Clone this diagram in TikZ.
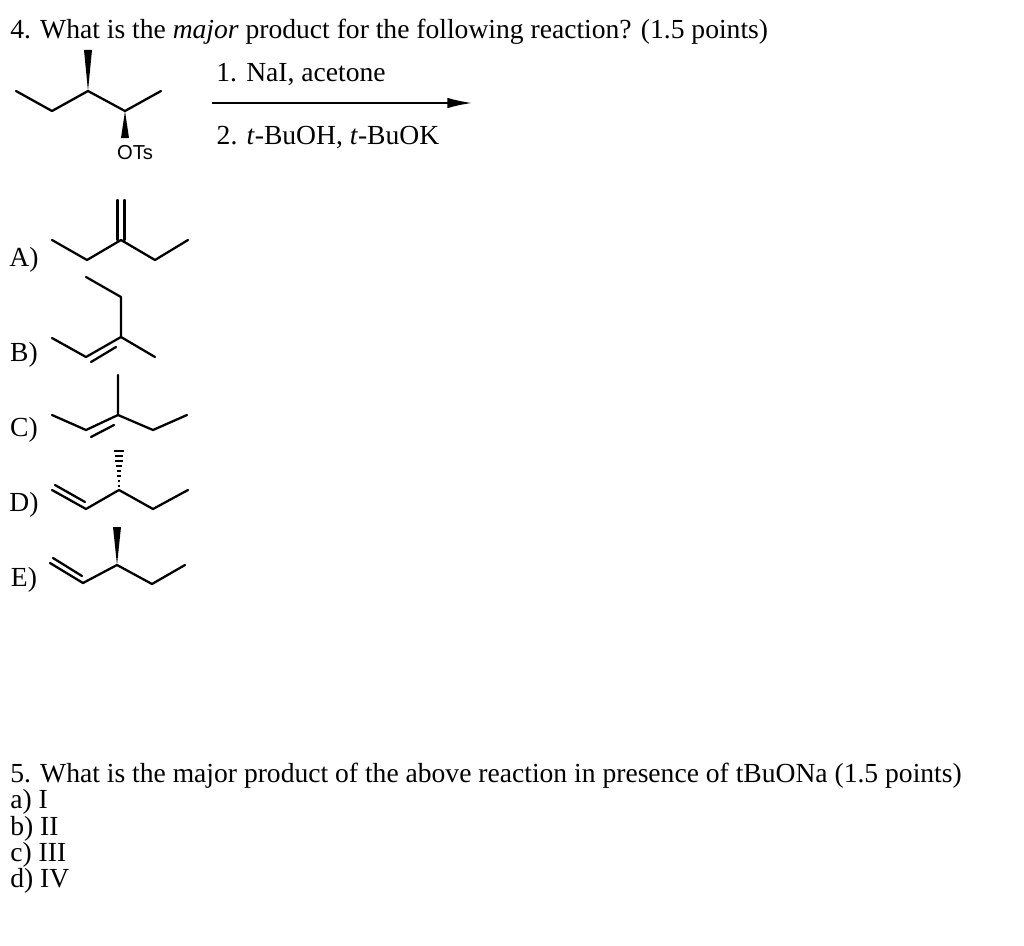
\documentclass[tikz,border=0pt]{standalone}
\usepackage{fontspec}
\usetikzlibrary{arrows.meta}
\setmainfont{Liberation Serif}
\newfontfamily\sansf{Liberation Sans}
\begin{document}
\begin{tikzpicture}[x=0.02cm,y=-0.02cm,bond/.style={line width=1.3pt,line cap=round,line join=round},
 txt/.style={anchor=west,inner sep=0,font=\fontsize{15.7pt}{18pt}\selectfont},
 lab/.style={inner sep=0,font=\fontsize{15.7pt}{18pt}\selectfont}]
\useasboundingbox (0,0) rectangle (1024,946);
\node[txt] (q4) at (10,32) {4. What is the \textit{major} product for the following reaction? (1.5 points)};
% starting material
\draw[bond] (16,91)--(52,111)--(88,91)--(125,111)--(161,91);
\fill (88,91)--(84,50)--(92,50)--cycle;
\fill (125,111)--(121,138)--(129,138)--cycle;
\node[inner sep=0,font=\sansf\fontsize{11.5pt}{13pt}\selectfont] (ots) at (135,153) {OTs};
\coordinate (a1) at (212,103); \coordinate (a2) at (472,103);
\draw[line width=1pt,-{Latex[length=14pt,width=6pt]}] (a1)--(a2);
\node[lab] (r1) at (301,75) {1. NaI, acetone};
\node[lab] (r2) at (328,137) {2. \textit{t}-BuOH, \textit{t}-BuOK};
% A
\node[lab] (la) at (24,260) {A)};
\draw[bond] (52,240)--(87,260)--(121,240)--(155,260)--(188,240);
\draw[bond] (117.5,240)--(117.5,200); \draw[bond] (124.5,240)--(124.5,200);
% B
\node[lab] (lb) at (24,355) {B)};
\draw[bond] (86,277)--(121,297)--(121,337)--(86,357)--(52,338);
\draw[bond] (121,337)--(155,357);
\draw[bond] (116,347)--(91,362);
% C
\node[lab] (lc) at (24,430) {C)};
\draw[bond] (118,375)--(118,415)--(86,430)--(52,415);
\draw[bond] (118,415)--(153,430)--(187,415);
\draw[bond] (114,425)--(91,437);
% D
\node[lab] (ld) at (24,505) {D)};
\draw[bond] (52,490)--(86,509)--(119,490)--(153,509)--(188,490);
\draw[bond] (85,502)--(55,485);
\foreach \i in {0,...,7} {\draw[line width=1pt] ({119-0.6-0.6*\i},{486-5*\i})--({119+0.6+0.6*\i},{486-5*\i});}
% E
\node[lab] (le) at (24,580) {E)};
\draw[bond] (50,563)--(83,583)--(117,565)--(152,584)--(185,565);
\draw[bond] (82,576)--(53,558);
\fill (117,565)--(113,527)--(121,527)--cycle;
% Q5
\node[txt] (q5) at (10,776) {5. What is the major product of the above reaction in presence of tBuONa (1.5 points)};
\node[txt] (o1) at (10,802) {a) I};
\node[txt] (o2) at (10,829) {b) II};
\node[txt] (o3) at (10,855) {c) III};
\node[txt] (o4) at (10,881) {d) IV};
\end{tikzpicture}
\end{document}
